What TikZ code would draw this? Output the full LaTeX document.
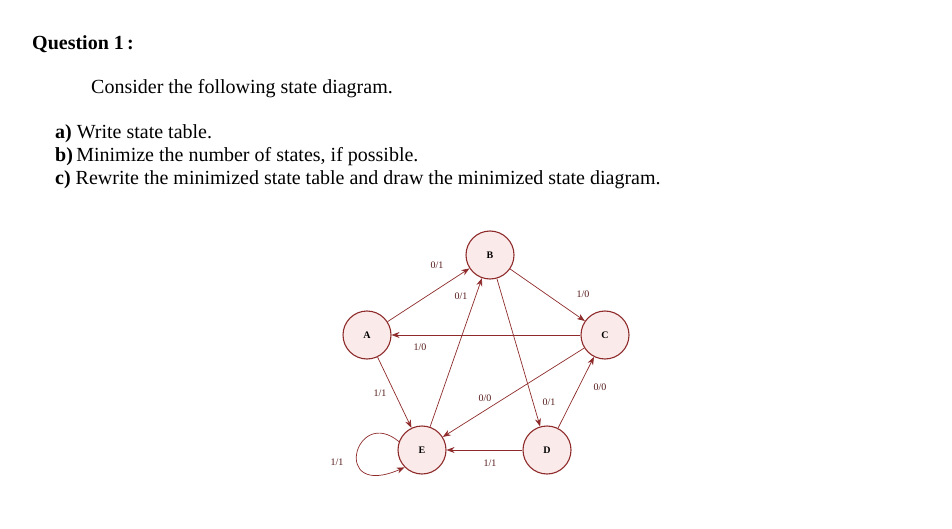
\documentclass[tikz,border=0pt]{standalone}
\usepackage{fontspec}
\setmainfont{Liberation Serif}
\usetikzlibrary{arrows.meta}
\definecolor{st}{HTML}{8E2A2A}
\definecolor{sf}{HTML}{FBEAEA}
\tikzset{
 state/.style={circle,draw=st,fill=sf,line width=1.1pt,minimum size=48pt,inner sep=0pt,font=\fontsize{10}{11}\selectfont\bfseries},
 edge/.style={draw=st,line width=0.7pt,-{Stealth[length=8pt,width=6pt]}},
 lbl/.style={font=\fontsize{10}{11}\selectfont,text=st!60!black},
 txt/.style={anchor=west,font=\fontsize{20}{22}\selectfont,inner sep=0pt}
}
\begin{document}
\begin{tikzpicture}[x=1pt,y=-1pt]
\useasboundingbox (0,0) rectangle (952,529);
\node[txt,font=\fontsize{20}{22}\selectfont\bfseries] (q) at (32,44) {Question 1\,:};
\node[txt] (c) at (91,89) {Consider the following state diagram.};
\node[txt] (a) at (55,134) {\textbf{a)} Write state table.};
\node[txt] (b) at (55,157) {\textbf{b)}\,Minimize the number of states, if possible.};
\node[txt] (cc) at (55,180) {\textbf{c)} Rewrite the minimized state table and draw the minimized state diagram.};
\node[state] (A) at (367,335) {A};
\node[state] (B) at (490,255) {B};
\node[state] (C) at (605,335) {C};
\node[state] (D) at (547,450) {D};
\node[state] (E) at (422,450) {E};
\draw[edge] (A) -- (B);
\draw[edge] (E) -- (B);
\draw[edge] (B) -- (C);
\draw[edge] (B) -- (D);
\draw[edge] (C) -- (A);
\draw[edge] (C) -- (E);
\draw[edge] (D) -- (C);
\draw[edge] (D) -- (E);
\draw[edge] (A) -- (E);
\draw[edge] (E.160) .. controls (355,405) and (330,500) .. (E.225);
\node[lbl] (l1) at (437,265) {0/1};
\node[lbl] (l2) at (461,296) {0/1};
\node[lbl] (l3) at (583,294) {1/0};
\node[lbl] (l4) at (420,347) {1/0};
\node[lbl] (l5) at (380,393) {1/1};
\node[lbl] (l6) at (485,398) {0/0};
\node[lbl] (l7) at (549,402) {0/1};
\node[lbl] (l8) at (600,387) {0/0};
\node[lbl] (l9) at (490,463) {1/1};
\node[lbl] (l10) at (337,462) {1/1};
\end{tikzpicture}
\end{document}
